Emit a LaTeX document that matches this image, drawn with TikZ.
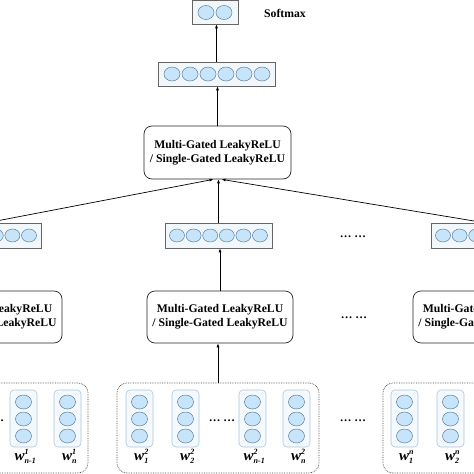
\documentclass[tikz,border=0pt]{standalone}
\usepackage{amsmath}
\usepackage{fontspec}
\setmainfont{Liberation Serif}
\usetikzlibrary{arrows.meta,positioning}

\definecolor{cellfill}{RGB}{199,229,250}
\definecolor{celldraw}{RGB}{95,125,158}
\definecolor{vecfill}{RGB}{242,247,251}
\definecolor{colfill}{RGB}{244,249,253}
\definecolor{coldraw}{RGB}{172,198,220}

\newcommand{\wlab}[2]{{\fontsize{15}{16}\selectfont\bfseries\itshape w$^{\hbox{\fontsize{8}{8}\selectfont\bfseries\itshape #1}}_{\hbox{\fontsize{8}{8}\selectfont\bfseries\itshape #2}}$}}

\tikzset{
  vec/.style={draw=black!60, fill=vecfill, line width=.6pt, inner sep=0pt},
  cell/.style={draw=celldraw, fill=cellfill, line width=.5pt},
  lrelu/.style={draw=black!85, fill=white, rounded corners=8pt, line width=.7pt,
                minimum width=146pt, minimum height=52pt, align=center,
                font=\fontsize{11.7}{14}\selectfont\bfseries},
  group/.style={draw=black!75, densely dotted, rounded corners=10pt, line width=.7pt,
                minimum width=202pt, minimum height=90pt},
  col/.style={draw=coldraw, fill=colfill, rounded corners=4pt, line width=.6pt,
              minimum width=27pt, minimum height=57pt, inner sep=0pt},
  dots/.style={anchor=base, font=\fontsize{11.7}{14}\selectfont\bfseries},
  arr/.style={-{Latex[length=4pt,width=3pt]}, line width=.7pt}
}

\begin{document}
\begin{tikzpicture}[x=1pt, y=-1pt]
\clip (0,0) rectangle (474,474);

\node[vec, minimum width=46pt, minimum height=24pt] (sm) at (215.5,12) {};
\foreach \cx in {206,224} \filldraw[cell] (\cx,12.5) ellipse [x radius=8, y radius=7];
\node[font=\fontsize{11.7}{14}\selectfont\bfseries] (smlab) at (285,13) {Softmax};

\node[vec, minimum width=117pt, minimum height=24pt] (top) at (216.5,74) {};
\foreach \i in {0,...,5} \filldraw[cell] ({172+18*\i},74) ellipse [x radius=8, y radius=7];

\node[lrelu, minimum width=147pt, minimum height=53pt] (L0) at (217.5,152.5)
  {Multi-Gated LeakyReLU\\/ Single-Gated LeakyReLU};

\foreach \k/\gx in {1/-11, 2/220, 3/486} {
  \node[vec, minimum width=107pt, minimum height=25pt] (v\k) at (\gx-1.5,235.5) {};
  \foreach \i in {0,...,5} \filldraw[cell] ({\gx-43+16.6*\i},235.5) ellipse [x radius=7.5, y radius=6.5];
  \node[lrelu] (L\k) at (\gx,317) {Multi-Gated LeakyReLU\\/ Single-Gated LeakyReLU};
  \node[group] (g\k) at (\gx-2,428) {};
  \node[dots] (gd\k) at (\gx+2,421.5) {… …};
  \draw[arr] (g\k.north) -- (g\k.north |- L\k.south);
  \draw[arr] (L\k.north) -- (L\k.north |- v\k.south);
}

\foreach \x/\up/\dn [count=\k] in {10/1/n-1, 54/1/n, 126/2/1, 172/2/2, 239/2/n-1, 283/2/n, 391/n/1, 437/n/2} {
  \node[col] (c\k) at (\x+13.5,418.5) {};
  \foreach \cy in {402,419,436} \filldraw[cell] (\x+13.5,\cy) ellipse [x radius=8, y radius=7];
  \node[anchor=base, inner sep=0pt] (w\k) at (\x+15.5,460) {\wlab{\up}{\dn}};
}

\node[dots] (dv) at (353,237.5) {… …};
\node[dots] (dl) at (354,318.5) {… …};
\node[dots] (dg) at (353,421.5) {… …};

\draw[arr] (top.north) -- (top.north |- sm.south);
\draw[arr] (L0.north) -- (L0.north |- top.south);
\draw[arr] (v2.north) -- (v2.north |- L0.south);
\draw[arr] (v1.north) -- ([xshift=-4pt]L0.south);
\draw[arr] (v3.north) -- ([xshift=4pt]L0.south);
\end{tikzpicture}
\end{document}
